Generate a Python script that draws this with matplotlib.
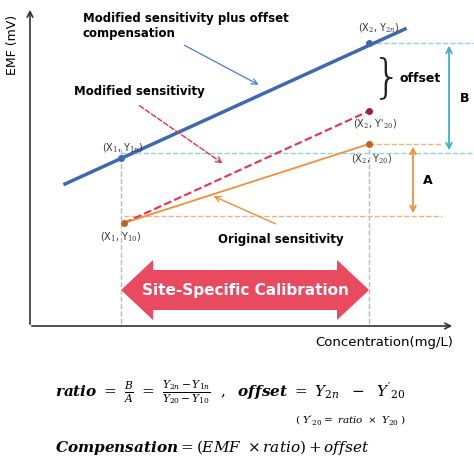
import numpy as np
import matplotlib.pyplot as plt
from matplotlib.patches import FancyArrow

plt.rcParams['mathtext.fontset'] = 'custom'
plt.rcParams['mathtext.rm'] = 'DejaVu Serif'
plt.rcParams['mathtext.it'] = 'DejaVu Serif:italic'
plt.rcParams['mathtext.bf'] = 'DejaVu Serif:bold:italic'

# diagram anchor points (pixel coords of the reference picture)
x_pts = [121, 369]
y_1n, y_2n = 159, 44
y_10, y_20 = 224, 145
y_20p = 112
blue_ext = ([65, 405], [185, 30])

fig = plt.figure(figsize=(4.74, 4.64), dpi=100)
ax = fig.add_axes([0, 0, 1, 1])
ax.set_xlim(0, 474)
ax.set_ylim(464, 0)
ax.axis('off')

# axes
ax.annotate('', xy=(30, 8), xytext=(30, 328),
            arrowprops=dict(arrowstyle='->', color='#333333', lw=1.2))
ax.annotate('', xy=(455, 327), xytext=(29, 327),
            arrowprops=dict(arrowstyle='->', color='#333333', lw=1.2))
ax.text(13, 45, 'EMF (mV)', rotation=90, ha='center', va='center', fontsize=9)
ax.text(453, 343, 'Concentration(mg/L)', ha='right', va='center', fontsize=9.5)

# guide lines
for x in x_pts:
    ax.plot([x, x], [150, 327], '--', color='#bbbbbb', lw=1)
ax.plot([369, 474], [y_2n, y_2n], '--', color='#8fd3dd', lw=1)
ax.plot([121, 474], [154, 154], '--', color='#8fd3dd', lw=1)
ax.plot([369, 442], [y_20, y_20], '--', color='#f5b080', lw=1)
ax.plot([124, 442], [217, 217], '--', color='#f5b080', lw=1)

# sensitivity lines
ax.plot(blue_ext[0], blue_ext[1], color='#3e68b0', lw=2.5)
ax.plot([124, 369], [y_10, y_20p], '--', color='#e8304f', lw=1.5)
ax.plot([124, 369], [y_10, y_20], color='#f0903a', lw=1.3)
ax.plot(x_pts, [y_1n, y_2n], 'o', color='#3e68b0', ms=4)
ax.plot([369], [y_20p], 'o', color='#a02030', ms=4)
ax.plot([124, 369], [y_10, y_20], 'o', color='#c8601a', ms=4)

lbl = dict(fontsize=7, color='#333333')
ax.text(102, 151, '(X$_1$, Y$_{1n}$)', **lbl)
ax.text(358, 30, '(X$_2$, Y$_{2n}$)', **lbl)
ax.text(353, 126, "(X$_2$, Y'$_{20}$)", **lbl)
ax.text(351, 162, '(X$_2$, Y$_{20}$)', **lbl)
ax.text(100, 240, '(X$_1$, Y$_{10}$)', **lbl)

# A / B arrows
ax.annotate('', xy=(449, 44), xytext=(449, 154),
            arrowprops=dict(arrowstyle='<->', color='#3bb0c9', lw=1.3))
ax.text(460, 99, 'B', fontweight='bold', fontsize=9, va='center')
ax.annotate('', xy=(413, 145), xytext=(413, 217),
            arrowprops=dict(arrowstyle='<->', color='#f0903a', lw=1.3))
ax.text(428, 181, 'A', fontweight='bold', fontsize=9, va='center', ha='center')

# brace
ax.text(372, 78, '}', fontsize=34, va='center', ha='left', color='#222222',
        family='DejaVu Sans', fontweight='light')
ax.text(400, 78, 'offset', fontweight='bold', fontsize=9, va='center')

# annotations
ax.text(83, 12, 'Modified sensitivity plus offset\ncompensation',
        fontweight='bold', fontsize=8.5, va='top', linespacing=1.2)
ax.annotate('', xy=(261, 87), xytext=(182, 45),
            arrowprops=dict(arrowstyle='->', color='#4a7cc8', lw=0.9))
ax.text(74, 92, 'Modified sensitivity', fontweight='bold', fontsize=8.5, va='center')
ax.annotate('', xy=(225, 166), xytext=(137, 105),
            arrowprops=dict(arrowstyle='->', color='#e8304f', lw=1, ls='--'))
ax.text(218, 240, 'Original sensitivity', fontweight='bold', fontsize=8.5, va='center')
ax.annotate('', xy=(211, 196), xytext=(278, 226),
            arrowprops=dict(arrowstyle='->', color='#f0903a', lw=1))

# big double arrow
for xs, dx in [(245, -124), (245, 124)]:
    ax.add_patch(FancyArrow(xs, 291, dx, 0, width=40, head_width=60,
                            head_length=32, length_includes_head=True,
                            color='#ea4a5f', lw=0))
ax.text(245, 291, 'Site-Specific Calibration', color='white', fontsize=11,
        fontweight='bold', ha='center', va='center')

# formulas
ax.text(55, 393, r'$\mathbf{ratio}\ =\ \frac{B}{A}\ =\ '
        r'\frac{Y_{2n}-Y_{1n}}{Y_{20}-Y_{10}}\ \ ,\ \ \mathbf{offset}\ =\ '
        r"Y_{2n}\ \ -\ \ Y'_{20}$", fontsize=11, va='center')
ax.text(295, 420, r"$(\ Y'_{20}=\ ratio\ \times\ Y_{20}\ )$", fontsize=7.5,
        va='center')
ax.text(55, 448, r'$\mathbf{Compensation} = (EMF\ \times ratio) + offset$',
        fontsize=11, va='center')

fig.savefig('out.png', dpi=100)
